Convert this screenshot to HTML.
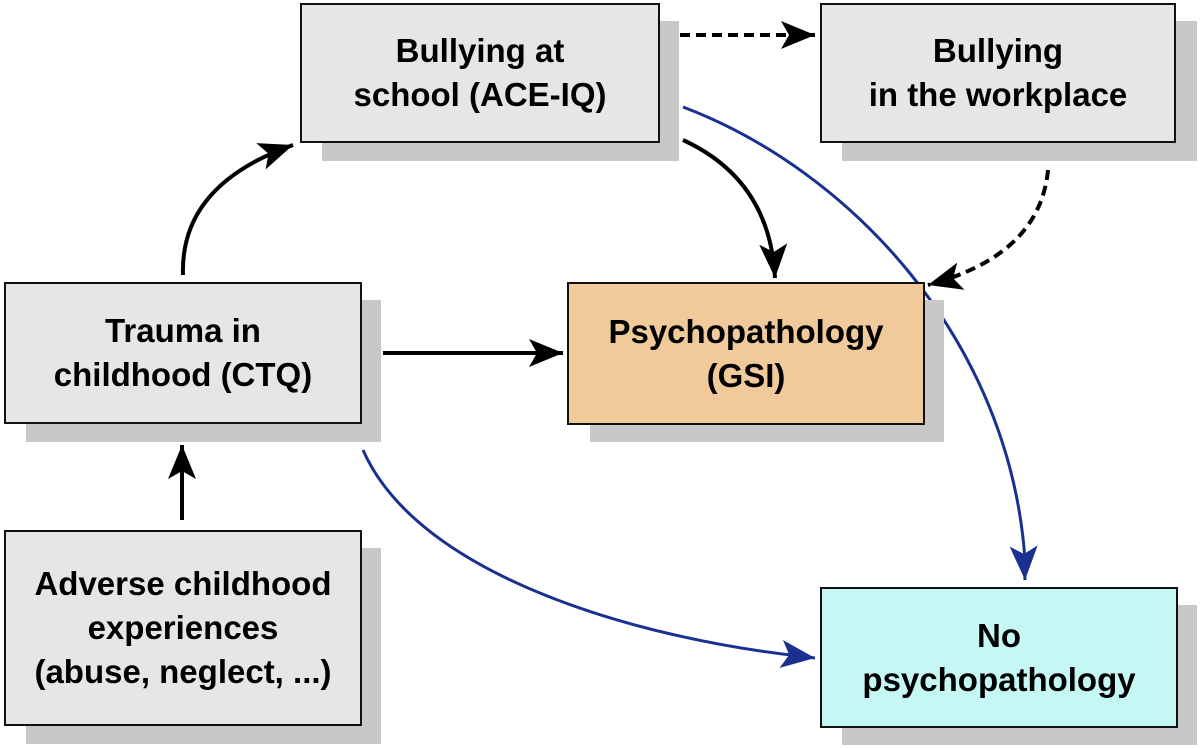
<!DOCTYPE html>
<html><head><meta charset="utf-8"><style>
html,body{margin:0;padding:0;background:#fff}
body{width:1200px;height:748px;position:relative;overflow:hidden;font-family:"Liberation Sans",Arial,sans-serif}
.sh{position:absolute;background:#c8c8c8}
.b{position:absolute;box-sizing:border-box;border:2px solid #111;background:#e6e6e6;display:flex;align-items:center;justify-content:center;text-align:center;font-weight:bold;font-size:33px;line-height:44px;color:#000}
svg{position:absolute;left:0;top:0}
</style></head><body>
<svg width="1200" height="748" style="z-index:0">
<defs>
<marker id="ab" markerWidth="10" markerHeight="10" refX="8" refY="5" orient="auto" markerUnits="userSpaceOnUse" viewBox="0 0 10 10"><path d="M0,0 L10,5 L0,10 L2.5,5 z" fill="#1a2f8f"/></marker>
</defs>
<path d="M683,107 C850,170 1010,340 1025,560" stroke="#1a3090" stroke-width="3" fill="none"/>
<path d="M363,450 C420,580 650,640 800,656" stroke="#1a3090" stroke-width="3" fill="none"/>
</svg>
<div class="sh" style="left:322px;top:21px;width:357px;height:140px"></div>
<div class="b" style="left:300px;top:3px;width:360px;height:140px">Bullying at<br>school (ACE-IQ)</div>
<div class="sh" style="left:842px;top:21px;width:355px;height:140px"></div>
<div class="b" style="left:820px;top:3px;width:356px;height:140px">Bullying<br>in the workplace</div>
<div class="sh" style="left:26px;top:300px;width:355px;height:142px"></div>
<div class="b" style="left:4px;top:282px;width:358px;height:142px">Trauma in<br>childhood (CTQ)</div>
<div class="sh" style="left:590px;top:300px;width:354px;height:142px"></div>
<div class="b" style="left:567px;top:282px;width:358px;height:143px;background:#f0ca9a">Psychopathology<br>(GSI)</div>
<div class="sh" style="left:26px;top:548px;width:355px;height:196px"></div>
<div class="b" style="left:4px;top:530px;width:358px;height:196px">Adverse childhood<br>experiences<br>(abuse, neglect, ...)</div>
<div class="sh" style="left:842px;top:605px;width:355px;height:140px"></div>
<div class="b" style="left:820px;top:587px;width:358px;height:141px;background:#c5f7f5">No<br>psychopathology</div>
<svg width="1200" height="748" style="z-index:2">
<defs>
<marker id="a" markerWidth="36" markerHeight="36" refX="34" refY="18" orient="auto" markerUnits="userSpaceOnUse" viewBox="0 0 36 36"><path d="M0,4 L34,18 L0,32 L8,18 z" fill="#000"/></marker>
<marker id="ab2" markerWidth="36" markerHeight="36" refX="34" refY="18" orient="auto" markerUnits="userSpaceOnUse" viewBox="0 0 36 36"><path d="M0,4 L34,18 L0,32 L8,18 z" fill="#1a3090"/></marker>
</defs>
<path d="M183,275 Q180,185 293,145" stroke="#000" stroke-width="4" fill="none" marker-end="url(#a)"/>
<path d="M683,140 Q770,180 775,278" stroke="#000" stroke-width="4" fill="none" marker-end="url(#a)"/>
<path d="M680,35 L815,35" stroke="#000" stroke-width="4" fill="none" stroke-dasharray="10,6" marker-end="url(#a)"/>
<path d="M1048,170 Q1040,255 928,285" stroke="#000" stroke-width="4" fill="none" stroke-dasharray="10,6" marker-end="url(#a)"/>
<path d="M383,353 L563,353" stroke="#000" stroke-width="4" fill="none" marker-end="url(#a)"/>
<path d="M182,520 L182,445" stroke="#000" stroke-width="4" fill="none" marker-end="url(#a)"/>
<path d="M1024,555 L1025,580" stroke="#1a3090" stroke-width="3" fill="none" marker-end="url(#ab2)"/>
<path d="M790,655 L815,658" stroke="#1a3090" stroke-width="3" fill="none" marker-end="url(#ab2)"/>
</svg>
</body></html>
